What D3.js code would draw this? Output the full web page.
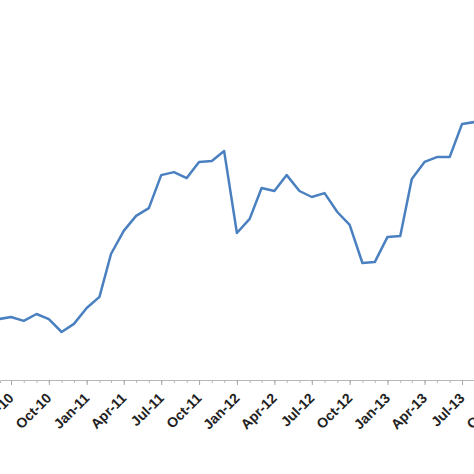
<!DOCTYPE html>
<html>
<head>
<meta charset="utf-8">
<script src="https://cdn.jsdelivr.net/npm/d3@7"></script>
<style>
  html, body { margin: 0; padding: 0; background: #fff; }
  svg { display: block; }
</style>
</head>
<body>
<svg id="chart" width="474" height="474"></svg>
<script>
// ---- data ----
const months = ["Jun-10","Jul-10","Aug-10","Sep-10","Oct-10","Nov-10","Dec-10",
  "Jan-11","Feb-11","Mar-11","Apr-11","May-11","Jun-11","Jul-11","Aug-11","Sep-11","Oct-11","Nov-11","Dec-11",
  "Jan-12","Feb-12","Mar-12","Apr-12","May-12","Jun-12","Jul-12","Aug-12","Sep-12","Oct-12","Nov-12","Dec-12",
  "Jan-13","Feb-13","Mar-13","Apr-13","May-13","Jun-13","Jul-13","Aug-13"];
const values = [20.3, 21.0, 19.7, 22.0, 20.3, 16.0, 18.7,
  24.0, 27.7, 42.0, 49.7, 54.7, 57.3, 68.3, 69.3, 67.3, 72.7, 73.0, 76.3,
  49.0, 53.7, 64.0, 63.0, 68.3, 63.0, 61.0, 62.3, 56.0, 51.7, 39.0, 39.3,
  47.7, 48.0, 67.0, 72.7, 74.3, 74.3, 85.3, 86.0];
const tickLabels = ["Jul-10","Oct-10","Jan-11","Apr-11","Jul-11","Oct-11","Jan-12",
  "Apr-12","Jul-12","Oct-12","Jan-13","Apr-13","Jul-13","Oct-13"];

// ---- setup ----
const W = 474, H = 474;
const axisY = 380;
const parse = d3.timeParse("%b-%y");
const fmt = d3.timeFormat("%b-%y");
const data = months.map((m, i) => ({ date: parse(m), value: values[i] }));

const base = d3.scaleTime()
  .domain([parse("Jul-10"), parse("Jul-13")])
  .range([11, 462]);
const x = d3.scaleTime()
  .domain([base.invert(0), base.invert(530)])
  .range([0, 530]);

const y = d3.scaleLinear().domain([0, 100]).range([axisY, 80]);

const svg = d3.select("#chart");

// minor (monthly) ticks
const minor = svg.append("g")
  .attr("transform", `translate(0,${axisY})`)
  .call(d3.axisBottom(x).ticks(d3.timeMonth.every(1)).tickSize(3).tickFormat(""));
minor.select(".domain").attr("stroke", "#b8b8b8").attr("stroke-width", 1);
minor.selectAll(".tick line").attr("stroke", "#b8b8b8");

// major (quarterly) ticks with labels
const tickDates = tickLabels.map(parse);
const major = svg.append("g")
  .attr("transform", `translate(0,${axisY})`)
  .call(d3.axisBottom(x).tickValues(tickDates).tickSize(5).tickFormat(fmt));
major.select(".domain").remove();
major.selectAll(".tick line").attr("stroke", "#a8a8a8");
major.selectAll(".tick text")
  .attr("font-family", "'Liberation Sans', Arial, sans-serif")
  .attr("font-size", 14)
  .attr("font-weight", "bold")
  .attr("fill", "#222")
  .attr("text-anchor", "end")
  .attr("dy", null)
  .attr("y", null)
  .attr("transform", "translate(3,19) rotate(-45)");

// line
const line = d3.line()
  .x(d => x(d.date))
  .y(d => y(d.value));

svg.append("path")
  .datum(data)
  .attr("fill", "none")
  .attr("stroke", "#4a80c0")
  .attr("stroke-width", 2.5)
  .attr("stroke-linejoin", "round")
  .attr("d", line);
</script>
</body>
</html>
